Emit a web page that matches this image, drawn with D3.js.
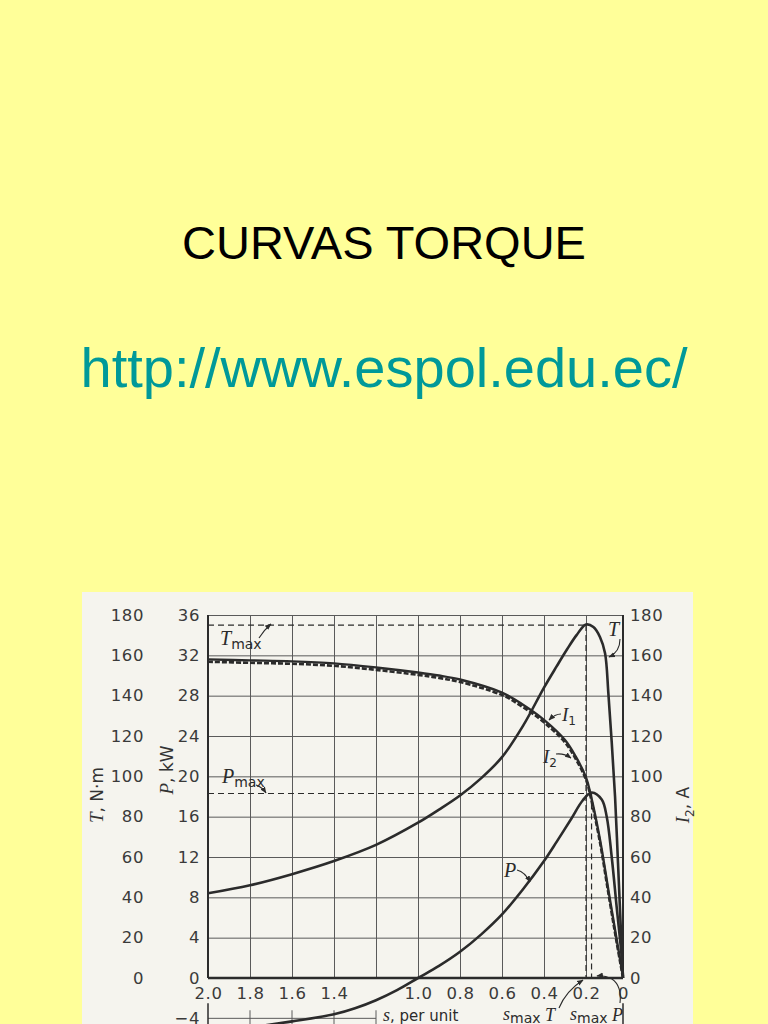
<!DOCTYPE html>
<html>
<head>
<meta charset="utf-8">
<script src="https://cdn.jsdelivr.net/npm/d3@7"></script>
<style>
  body { margin: 0; background: #ffff99; }
  svg { display: block; }
</style>
</head>
<body>
<div id="chart"></div>
<script>
// readings taken off the scanned figure (slip s in per unit)
var torqueS  = [2.0, 1.8, 1.6, 1.4, 1.2, 1.0, 0.9, 0.8, 0.7, 0.6, 0.5, 0.4, 0.34, 0.29, 0.245, 0.2, 0.16, 0.124, 0.097, 0.079, 0.061, 0.043, 0.027, 0.012, 0];
var torqueNm = [42, 46, 51.5, 58, 66, 77, 83.5, 90.5, 99, 109.5, 125, 144, 154.5, 163, 170, 175.3, 174, 169, 161, 141, 117, 90, 57, 25, 0];

var currentS  = [2.0, 1.8, 1.6, 1.4, 1.2, 1.0, 0.9, 0.8, 0.6, 0.5, 0.4, 0.3, 0.25, 0.2, 0.175, 0.124, 0.079, 0.034, 0];
var currentI1 = [158, 157.5, 157, 156, 154, 151.5, 150, 148, 141.5, 135.5, 128, 118, 110, 99.5, 91, 68.5, 43.6, 19, 1];
var currentI2 = [156.8, 156.3, 155.8, 154.8, 152.8, 150.3, 148.8, 146.8, 140.3, 134.3, 126.8, 116.8, 108.8, 98.3, 89.8, 67, 42, 17.5, 0];

var powerS  = [2.0, 1.8, 1.6, 1.4, 1.3, 1.2, 1.1, 1.0, 0.9, 0.8, 0.7, 0.6, 0.5, 0.4, 0.34, 0.27, 0.216, 0.17, 0.115, 0.088, 0.061, 0.034, 0.007, 0];
var powerKW = [-5.4, -4.9, -4.3, -3.6, -3.0, -2.2, -1.2, 0, 1.2, 2.6, 4.3, 6.3, 8.8, 11.6, 13.5, 15.8, 17.6, 18.4, 17.7, 16.0, 12, 7, 2.1, 0];

var sTicks      = [2.0, 1.8, 1.6, 1.4, 1.2, 1.0, 0.8, 0.6, 0.4, 0.2, 0];
var sTickLabels = [2.0, 1.8, 1.6, 1.4, 1.0, 0.8, 0.6, 0.4, 0.2, 0];
var pTicks = [-4, 0, 4, 8, 12, 16, 20, 24, 28, 32, 36];
var tTicks = [0, 20, 40, 60, 80, 100, 120, 140, 160, 180];
var iTicks = [0, 20, 40, 60, 80, 100, 120, 140, 160, 180];

var tMax = 175, sMaxT = 0.2;
var pMax = 18.3, sMaxP = 0.17;

var W = 768, H = 1024;
var svg = d3.select("#chart").append("svg")
  .attr("width", W)
  .attr("height", H);

// slide title
svg.append("text")
  .attr("x", 384).attr("y", 259)
  .attr("text-anchor", "middle")
  .style("font-family", "'Liberation Sans', Arial, sans-serif")
  .style("font-size", "47px")
  .style("fill", "#000")
  .text("CURVAS TORQUE");

svg.append("text")
  .attr("x", 384).attr("y", 387)
  .attr("text-anchor", "middle")
  .style("font-family", "'Liberation Sans', Arial, sans-serif")
  .style("font-size", "56px")
  .style("fill", "#009999")
  .text("http://www.espol.edu.ec/");

// scanned picture background
svg.append("rect")
  .attr("x", 82).attr("y", 592)
  .attr("width", 611).attr("height", 440)
  .style("fill", "#f5f4ee");

// the book's grid is a little tighter between 0.2 and 0
var x  = d3.scaleLinear().domain([2, 0.2, 0]).range([208, 586, 623]);
var yP = d3.scaleLinear().domain([0, 36]).range([978, 615]);
var yT = d3.scaleLinear().domain([0, 180]).range([978, 615]);
var yI = d3.scaleLinear().domain([0, 180]).range([978, 615]);

var ink = "#2b2b2b";
var grid = "#5a5a5a";
var tickFont = "'DejaVu Sans', sans-serif";

var g = svg.append("g");

// grid
g.append("g")
  .attr("transform", "translate(0,615)")
  .call(d3.axisBottom(x).tickValues(sTicks).tickSize(363).tickFormat(""))
  .call(function(a) { a.select(".domain").remove(); })
  .selectAll("line").style("stroke", grid).style("stroke-width", 1);

g.append("g")
  .attr("transform", "translate(208,0)")
  .call(d3.axisRight(yP).tickValues(pTicks.filter(function(v) { return v >= 0; })).tickSize(415).tickFormat(""))
  .call(function(a) { a.select(".domain").remove(); })
  .selectAll("line").style("stroke", grid).style("stroke-width", 1);

// frame
g.append("line").attr("x1", 208).attr("x2", 623).attr("y1", yP(0)).attr("y2", yP(0))
  .style("stroke", ink).style("stroke-width", 2.5);
g.append("line").attr("x1", x(2)).attr("x2", x(2)).attr("y1", 615).attr("y2", yP(0))
  .style("stroke", ink).style("stroke-width", 2);
g.append("line").attr("x1", x(0)).attr("x2", x(0)).attr("y1", 615).attr("y2", yP(0))
  .style("stroke", ink).style("stroke-width", 2);

// lower strip below zero
g.append("line").attr("x1", x(2)).attr("x2", x(1.2)).attr("y1", yP(-4)).attr("y2", yP(-4))
  .style("stroke", grid).style("stroke-width", 1);
[1.8, 1.6, 1.4, 1.2].forEach(function(s) {
  g.append("line").attr("x1", x(s)).attr("x2", x(s)).attr("y1", yP(-3.2)).attr("y2", H)
    .style("stroke", grid).style("stroke-width", 1);
});
[2, 0].forEach(function(s) {
  g.append("line").attr("x1", x(s)).attr("x2", x(s)).attr("y1", yP(-2.5)).attr("y2", H)
    .style("stroke", ink).style("stroke-width", 1.5);
});

// tick labels
function styleTicks(sel) {
  sel.select(".domain").remove();
  sel.selectAll("text")
    .style("font-family", tickFont)
    .style("font-size", "16.5px")
    .style("letter-spacing", "0.6px")
    .style("fill", "#3a3a3a");
}

svg.append("g")
  .attr("transform", "translate(149,0)")
  .call(d3.axisLeft(yT).tickValues(tTicks).tickSize(0).tickPadding(5))
  .call(styleTicks);

svg.append("g")
  .attr("transform", "translate(205,0)")
  .call(d3.axisLeft(yP).tickValues(pTicks).tickSize(0).tickPadding(5)
    .tickFormat(function(d) { return d < 0 ? "\u2212" + Math.abs(d) : d; }))
  .call(styleTicks);

svg.append("g")
  .attr("transform", "translate(623,0)")
  .call(d3.axisRight(yI).tickValues(iTicks).tickSize(0).tickPadding(7))
  .call(styleTicks);

svg.append("g")
  .attr("transform", "translate(0," + yP(0) + ")")
  .call(d3.axisBottom(x).tickValues(sTickLabels).tickSize(0).tickPadding(9)
    .tickFormat(function(d) { return d === 0 ? "0" : d3.format(".1f")(d); }))
  .call(styleTicks);

// axis titles
function axisTitle(cx, cy, parts) {
  var t = svg.append("text")
    .attr("transform", "translate(" + cx + "," + cy + ") rotate(-90)")
    .attr("text-anchor", "middle")
    .style("font-size", "17px")
    .style("fill", "#333");
  parts.forEach(function(p) {
    t.append("tspan")
      .attr("dy", p.dy || null)
      .style("font-family", p.serif ? "'Liberation Serif', serif" : tickFont)
      .style("font-style", p.serif ? "italic" : "normal")
      .style("font-size", p.size || null)
      .text(p.t);
  });
}
axisTitle(103, 795, [{ t: "T", serif: true, size: "19px" }, { t: ", N\u00b7m" }]);
axisTitle(173, 770, [{ t: "P", serif: true, size: "19px" }, { t: ", kW" }]);
axisTitle(689, 805, [{ t: "I", serif: true, size: "19px" }, { t: "2", dy: 5, size: "12px" }, { t: ", A", dy: -5 }]);

// max reference lines
var dash = "6,4";
g.append("line").attr("x1", x(2)).attr("x2", x(sMaxT)).attr("y1", yT(tMax)).attr("y2", yT(tMax))
  .style("stroke", ink).style("stroke-width", 1.2).style("stroke-dasharray", dash);
g.append("line").attr("x1", x(sMaxT)).attr("x2", x(sMaxT)).attr("y1", yT(tMax)).attr("y2", yP(0))
  .style("stroke", ink).style("stroke-width", 1.2).style("stroke-dasharray", dash);
g.append("line").attr("x1", x(2)).attr("x2", x(sMaxP)).attr("y1", yP(pMax)).attr("y2", yP(pMax))
  .style("stroke", ink).style("stroke-width", 1.2).style("stroke-dasharray", dash);
g.append("line").attr("x1", x(sMaxP)).attr("x2", x(sMaxP)).attr("y1", yP(pMax)).attr("y2", yP(0))
  .style("stroke", ink).style("stroke-width", 1.2).style("stroke-dasharray", dash);

// curves
function curve(sArr, vArr, yScale) {
  var pts = sArr.map(function(s, i) { return [x(s), yScale(vArr[i])]; });
  return d3.line().curve(d3.curveCatmullRom.alpha(0.5))(pts);
}

g.append("path").attr("d", curve(currentS, currentI2, yI))
  .style("fill", "none").style("stroke", ink).style("stroke-width", 2.6)
  .style("stroke-dasharray", "5,2");
g.append("path").attr("d", curve(currentS, currentI1, yI))
  .style("fill", "none").style("stroke", ink).style("stroke-width", 2.4);
g.append("path").attr("d", curve(torqueS, torqueNm, yT))
  .style("fill", "none").style("stroke", ink).style("stroke-width", 2.6);
g.append("path").attr("d", curve(powerS, powerKW, yP))
  .style("fill", "none").style("stroke", ink).style("stroke-width", 2.6);

// arrows
svg.append("defs").append("marker")
  .attr("id", "arr")
  .attr("viewBox", "0 0 10 10")
  .attr("refX", 9).attr("refY", 5)
  .attr("markerWidth", 6).attr("markerHeight", 6)
  .attr("orient", "auto")
  .append("path").attr("d", "M0,1 L10,5 L0,9 Z").style("fill", ink);

function arrow(d) {
  svg.append("path").attr("d", d)
    .style("fill", "none").style("stroke", ink).style("stroke-width", 1.1)
    .attr("marker-end", "url(#arr)");
}

// labels inside the figure
function label(px, py, parts) {
  var t = svg.append("text").attr("x", px).attr("y", py).style("fill", "#2b2b2b");
  parts.forEach(function(p) {
    t.append("tspan")
      .attr("dy", p.dy || null)
      .style("font-family", p.serif ? "'Liberation Serif', serif" : tickFont)
      .style("font-style", p.serif ? "italic" : "normal")
      .style("font-size", p.size || "19px")
      .text(p.t);
  });
}

label(220, 645, [{ t: "T", serif: true, size: "20px" }, { t: "max", dy: 4, size: "14px" }]);
arrow("M259,638 Q264,630 271,624");
label(222, 783, [{ t: "P", serif: true, size: "20px" }, { t: "max", dy: 4, size: "14px" }]);
arrow("M256,785 Q262,787 266,793");

label(562, 721, [{ t: "I", serif: true }, { t: "1", dy: 4, size: "12px" }]);
arrow("M561,714 Q555,714 549,720");
label(543, 763, [{ t: "I", serif: true }, { t: "2", dy: 4, size: "12px" }]);
arrow("M556,754 Q564,753 571,758");

label(608, 636, [{ t: "T", serif: true, size: "20px" }]);
arrow("M620,639 Q620,652 609,657");
label(504, 877, [{ t: "P", serif: true, size: "20px" }]);
arrow("M517,870 Q525,872 530,882");

// bottom strip texts
label(383, 1021, [{ t: "s", serif: true, size: "18px" }, { t: ", per unit", size: "15px" }]);
label(503, 1020, [{ t: "s", serif: true, size: "18px" }, { t: "max", dy: 3, size: "14px" }, { t: " T", serif: true, size: "18px", dy: -2 }]);
label(570, 1020, [{ t: "s", serif: true, size: "18px" }, { t: "max", dy: 3, size: "14px" }, { t: " P", serif: true, size: "18px", dy: -2 }]);
arrow("M559,1008 Q566,991 583,980");
arrow("M620,1003 Q622,986 612,979 Q604,975 597,976");
</script>
</body>
</html>
